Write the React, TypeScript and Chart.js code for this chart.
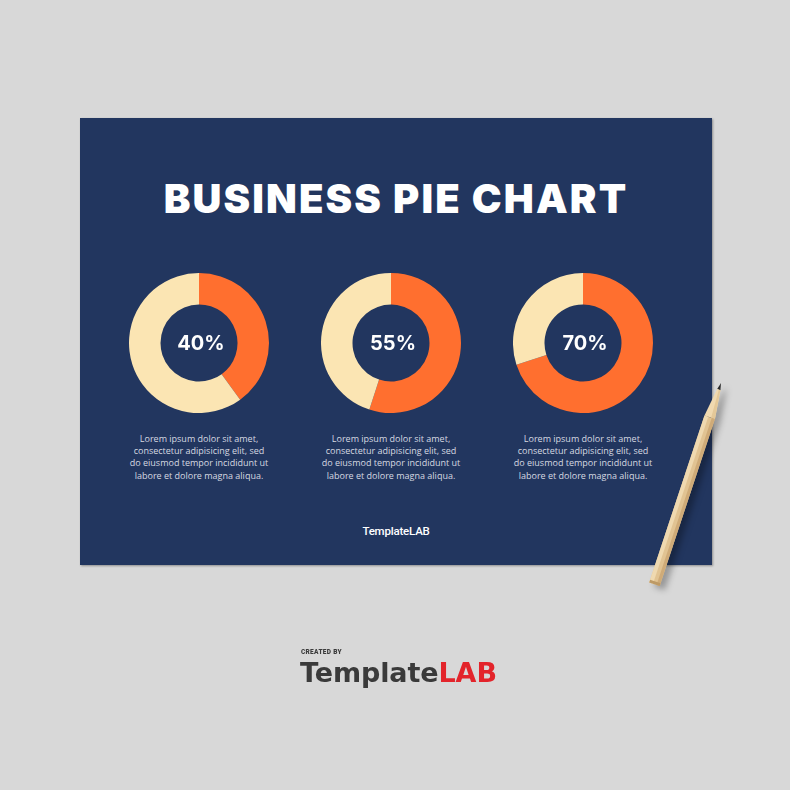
import React, { useEffect, useRef } from "react";
import { Chart, registerables } from "chart.js";

Chart.register(...registerables);

const categories = ["Achieved", "Remaining"];
const achievedValues = [40, 55, 70];
const remainingValues = [60, 45, 30];
const captionLines = [
  "Lorem ipsum dolor sit amet,",
  "consectetur adipisicing elit, sed",
  "do eiusmod tempor incididunt ut",
  "labore et dolore magna aliqua.",
];
const titleText = "BUSINESS PIE CHART";

const NAVY = "#22365f";
const ORANGE = "#ff6f2f";
const CREAM = "#fbe5b3";

const centerTextPlugin = {
  id: "centerText",
  afterDraw(chart: any) {
    const meta = chart.getDatasetMeta(0);
    const arc = meta.data[0];
    if (!arc) return;
    const { x, y } = arc.getProps(["x", "y"], true);
    const value = chart.data.datasets[0].data[0];
    const ctx = chart.ctx;
    ctx.save();
    ctx.fillStyle = "#ffffff";
    ctx.font = "700 20px Inter, 'Open Sans', sans-serif";
    ctx.textAlign = "center";
    ctx.textBaseline = "middle";
    ctx.fillText(value + "%", x + 2, y + 1);
    ctx.restore();
  },
};

function Donut({ index }: { index: number }) {
  const ref = useRef<HTMLCanvasElement | null>(null);
  useEffect(() => {
    if (!ref.current) return;
    const chart = new Chart(ref.current, {
      type: "doughnut",
      data: {
        labels: categories,
        datasets: [
          {
            data: [achievedValues[index], remainingValues[index]],
            backgroundColor: [ORANGE, CREAM],
            borderWidth: 0,
          },
        ],
      },
      options: {
        responsive: false,
        animation: false,
        cutout: "55%",
        layout: { padding: 0 },
        plugins: { legend: { display: false }, tooltip: { enabled: false } },
      },
      plugins: [centerTextPlugin],
    });
    return () => chart.destroy();
  }, [index]);
  return <canvas ref={ref} width={140} height={140} style={{ width: 140, height: 140, display: "block" }} />;
}

export default function App() {
  const centers = [199, 391, 583];
  return (
    <div
      style={{
        position: "fixed",
        left: 0,
        top: 0,
        width: 790,
        height: 790,
        background: "#d8d8d8",
        overflow: "hidden",
        fontFamily: "'Open Sans', sans-serif",
      }}
    >
      <div
        style={{
          position: "absolute",
          left: 80,
          top: 118,
          width: 632,
          height: 447,
          background: NAVY,
          boxShadow: "1px 1px 2px rgba(0,0,0,0.35)",
        }}
      />
      <div
        style={{
          position: "absolute",
          left: 80,
          top: 175,
          width: 632,
          textAlign: "center",
          color: "#ffffff",
          fontFamily: "Inter, sans-serif",
          fontWeight: 900,
          fontSize: 40,
          lineHeight: "48px",
          letterSpacing: 2.1,
          whiteSpace: "nowrap",
        }}
      >
        {titleText}
      </div>
      {centers.map((cx, i) => (
        <React.Fragment key={i}>
          <div style={{ position: "absolute", left: cx - 70, top: 273 }}>
            <Donut index={i} />
          </div>
          <div
            style={{
              position: "absolute",
              left: cx - 90,
              top: 433,
              width: 180,
              textAlign: "center",
              color: "#d6d9e1",
              fontSize: 9,
              lineHeight: "12.2px",
            }}
          >
            {captionLines.map((l, j) => (
              <div key={j}>{l}</div>
            ))}
          </div>
        </React.Fragment>
      ))}
      <div
        style={{
          position: "absolute",
          left: 80,
          top: 523,
          width: 632,
          textAlign: "center",
          color: "#ffffff",
          fontFamily: "Roboto, sans-serif",
          fontWeight: 500,
          fontSize: 11.5,
          lineHeight: "16px",
          letterSpacing: -0.2,
        }}
      >
        TemplateLAB
      </div>
      <svg
        width={790}
        height={790}
        style={{ position: "absolute", left: 0, top: 0, filter: "drop-shadow(5px 4px 3px rgba(0,0,0,0.3))" }}
      >
        <g transform="translate(721,383) rotate(18.3)">
          <polygon points="0,0 -1.7,7 1.7,7" fill="#2a2a2a" />
          <polygon points="-1.7,7 1.7,7 5.5,36 -5.5,36" fill="#f0d9b0" />
          <polygon points="0,7 1.7,7 5.5,36 1.5,36" fill="#e4c898" />
          <rect x={-5.5} y={36} width={11} height={176} fill="#e1c392" />
          <rect x={-5.5} y={36} width={4} height={176} fill="#efd9b0" />
          <rect x={2.2} y={36} width={3.3} height={176} fill="#cfab78" />
          <rect x={-5.5} y={209} width={11} height={3} fill="#bd9a66" />
        </g>
      </svg>
      <div
        style={{
          position: "absolute",
          left: 301,
          top: 649,
          color: "#3b3b3b",
          fontFamily: "Roboto, sans-serif",
          fontWeight: 900,
          fontSize: 6.5,
          lineHeight: "7px",
          letterSpacing: 0.3,
          whiteSpace: "nowrap",
        }}
      >
        CREATED BY
      </div>
      <div
        style={{
          position: "absolute",
          left: 300,
          top: 660,
          fontFamily: "'DejaVu Sans', sans-serif",
          fontWeight: 700,
          fontSize: 27,
          lineHeight: "25px",
          letterSpacing: -0.1,
          whiteSpace: "nowrap",
        }}
      >
        <span style={{ color: "#3a3a3a" }}>Template</span>
        <span style={{ color: "#e3242b" }}>LAB</span>
      </div>
    </div>
  );
}
